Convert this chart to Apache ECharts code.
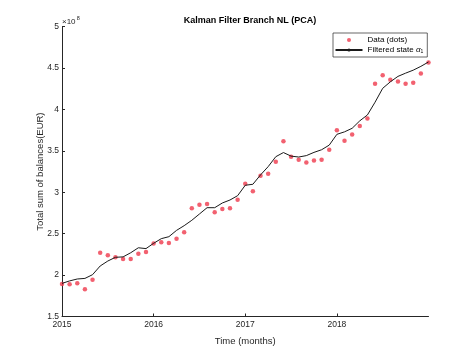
<!DOCTYPE html>
<html>
<head>
<meta charset="utf-8">
<script src="https://cdn.jsdelivr.net/npm/echarts@6/dist/echarts.min.js"></script>
<style>
html,body{margin:0;padding:0;background:#fff;}
#chart{width:474px;height:355px;}
</style>
</head>
<body>
<div id="chart"></div>
<script>
// Monthly observations Jan 2015 .. Jan 2019, values in units of 1e8 EUR
const startYear = 2015;
const monthCount = 49;
const dataDots = [
  1.892, 1.889, 1.901, 1.828, 1.943, 2.269, 2.239, 2.215, 2.194, 2.194, 2.259, 2.279,
  2.381, 2.398, 2.388, 2.440, 2.517, 2.807, 2.850, 2.859, 2.758, 2.798, 2.807, 2.911,
  3.104, 3.014, 3.200, 3.225, 3.370, 3.618, 3.430, 3.392, 3.361, 3.384, 3.394, 3.515,
  3.750, 3.623, 3.698, 3.800, 3.891, 4.312, 4.415, 4.358, 4.338, 4.312, 4.322, 4.434,
  4.567
];
const filteredState = [
  1.900, 1.930, 1.953, 1.960, 2.005, 2.110, 2.170, 2.215, 2.220, 2.270, 2.330, 2.320,
  2.384, 2.440, 2.464, 2.540, 2.597, 2.662, 2.738, 2.814, 2.814, 2.871, 2.907, 2.959,
  3.085, 3.097, 3.210, 3.310, 3.430, 3.480, 3.437, 3.426, 3.443, 3.482, 3.514, 3.570,
  3.700, 3.730, 3.773, 3.863, 3.934, 4.088, 4.256, 4.334, 4.400, 4.439, 4.475, 4.521,
  4.574
];
const xTicks = [2015, 2016, 2017, 2018];
const yTicks = [1.5, 2, 2.5, 3, 3.5, 4, 4.5, 5];

// time positions (decimal years) for each monthly observation
const times = [];
for (let i = 0; i < monthCount; i++) times.push(startYear + i / 12);

const dotSeries = times.map((t, i) => [t, dataDots[i]]);
const lineSeries = times.map((t, i) => [t, filteredState[i]]);

const FONT = 'Liberation Sans, Arial, Helvetica, sans-serif';
const AX = '#262626';

const chart = echarts.init(document.getElementById('chart'), null, {renderer: 'canvas'});
chart.setOption({
  animation: false,
  backgroundColor: '#ffffff',
  textStyle: {fontFamily: FONT},
  title: {
    text: 'Kalman Filter Branch NL (PCA)',
    left: 245, top: 11, textAlign: 'center',
    textStyle: {fontSize: 9, fontWeight: 'bold', color: '#000', fontFamily: FONT}
  },
  grid: {left: 62, right: 45.5, top: 26.7, bottom: 38.5, containLabel: false},
  xAxis: {
    type: 'value', min: 2015, max: 2019, interval: 1,
    name: 'Time (months)', nameLocation: 'middle', nameGap: 20, nameMoveOverlap: false,
    nameTextStyle: {fontSize: 9.5, color: AX, fontFamily: FONT},
    axisLine: {show: true, onZero: false, lineStyle: {color: AX, width: 1}},
    axisTick: {show: true, inside: true, length: 3, lineStyle: {color: AX, width: 1}, customValues: xTicks},
    axisLabel: {customValues: xTicks, formatter: v => String(Math.round(v)), fontSize: 8.5, color: AX, margin: 4, fontFamily: FONT},
    splitLine: {show: false}
  },
  yAxis: {
    type: 'value', min: 1.5, max: 5, interval: 0.5,
    name: 'Total sum of balances(EUR)', nameLocation: 'middle', nameGap: 17, nameRotate: 90,
    nameMoveOverlap: false,
    nameTextStyle: {fontSize: 9.5, color: AX, fontFamily: FONT},
    axisLine: {show: true, onZero: false, lineStyle: {color: AX, width: 1}},
    axisTick: {show: true, inside: true, length: 3, lineStyle: {color: AX, width: 1}, customValues: yTicks},
    axisLabel: {customValues: yTicks, formatter: v => String(Math.round(v * 10) / 10), fontSize: 8.5, color: AX, margin: 3, fontFamily: FONT},
    splitLine: {show: false}
  },
  legend: {
    orient: 'vertical', left: 333, top: 33,
    padding: [2, 4, 2, 1.5], itemGap: 0, itemWidth: 27, itemHeight: 4,
    borderColor: AX, borderWidth: 0.7, backgroundColor: '#fff', borderRadius: 0,
    textStyle: {
      fontSize: 8, color: '#000', lineHeight: 10, fontFamily: FONT,
      rich: {
        a: {fontSize: 8, fontStyle: 'italic', color: '#000', fontFamily: FONT},
        s: {fontSize: 5, color: '#000', padding: [4, 0, 0, 0], fontFamily: FONT}
      }
    },
    formatter: n => n === 'Filtered state α1' ? 'Filtered state {a|α}{s|1}' : n,
    data: [{name: 'Data (dots)', icon: 'circle'}, {name: 'Filtered state α1'}]
  },
  graphic: [
    {type: 'text', left: 62, top: 17.5, style: {text: '×10', fontSize: 8, fill: AX, fontFamily: FONT}},
    {type: 'text', left: 76.8, top: 15.5, style: {text: '8', fontSize: 5.5, fill: AX, fontFamily: FONT}}
  ],
  series: [
    {
      type: 'scatter', name: 'Data (dots)', data: dotSeries,
      symbol: 'circle', symbolSize: 4.5,
      itemStyle: {color: '#ef3a4c'}, z: 2
    },
    {
      type: 'line', name: 'Filtered state α1', data: lineSeries,
      showSymbol: false, symbol: 'none',
      lineStyle: {color: '#1a1a1a', width: 1},
      itemStyle: {color: '#1a1a1a'}, z: 3
    }
  ]
});
</script>
</body>
</html>
